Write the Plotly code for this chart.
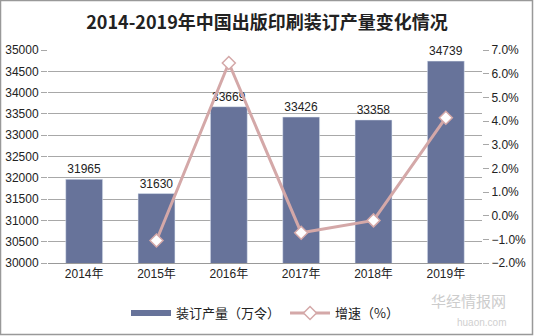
import plotly.graph_objects as go

years = ["2014年", "2015年", "2016年", "2017年", "2018年", "2019年"]
output = [31965, 31630, 33669, 33426, 33358, 34739]
growth = [None, -1.05, 6.45, -0.72, -0.20, 4.14]

W, H = 534, 336
L, R, T, B = 48, 52, 50, 73
BAR_C = "#67739A"
LINE_C = "#D4A8A8"

fig = go.Figure()
fig.add_trace(go.Bar(
    x=years, y=output, name="装订产量（万令）", showlegend=False,
    marker_color=BAR_C,
    text=[str(v) for v in output], textposition="outside",
    textfont=dict(size=12, color="#222"), cliponaxis=False,
))
# legend proxy for bar series (wide swatch)
fig.add_trace(go.Scatter(
    x=[years[0]], y=[None], name="装订产量（万令）", mode="lines",
    line=dict(color=BAR_C, width=6),
))
fig.add_trace(go.Scatter(
    x=years, y=growth, name="增速（%）", yaxis="y2", mode="lines+markers",
    line=dict(color=LINE_C, width=3),
    marker=dict(symbol="diamond", size=10, color="white", line=dict(color=LINE_C, width=1.5)),
    connectgaps=False,
))

pw = (W - L - R)
ph = (H - T - B)
fig.add_shape(type="rect", xref="paper", yref="paper",
              x0=-(L - 0.5) / pw, x1=1 + (R - 1.5) / pw,
              y0=-(B - 1.5) / ph, y1=1 + (T - 0.5) / ph,
              line=dict(color="#999", width=1.5), layer="below")

def py(pix):
    return 1 - (pix - T) / ph

fig.update_layout(
    width=W, height=H, margin=dict(l=L, r=R, t=T, b=B, autoexpand=False),
    paper_bgcolor="white", plot_bgcolor="white",
    font=dict(family="Liberation Sans, Noto Sans CJK SC", size=12, color="#222"),
    title=dict(text="<b>2014-2019年中国出版印刷装订产量变化情况</b>", x=0.5, xanchor="center",
               y=1 - 23 / H, yanchor="middle",
               font=dict(family="Noto Sans CJK SC", size=18, color="#222")),
    bargap=0.49,
    showlegend=True,
    legend=dict(orientation="h", x=0.5, xanchor="center", yref="container",
                y=1 - 313 / H, yanchor="middle",
                font=dict(family="Noto Sans CJK SC", size=13, color="#222"),
                itemwidth=40),
    xaxis=dict(showgrid=False, showline=True, linecolor="#999", ticks="",
               tickfont=dict(size=12)),
    yaxis=dict(range=[30000, 35000], dtick=500, tickformat="d", showgrid=True,
               gridcolor="#A8A8A8", gridwidth=1, ticks="outside", ticklen=6,
               tickcolor="#A8A8A8", showline=False, zeroline=False,
               tickfont=dict(size=12)),
    yaxis2=dict(range=[-2, 7], dtick=1, overlaying="y", side="right", showgrid=False,
                ticks="outside", ticklen=6, tickcolor="#A8A8A8", tickformat=".1f",
                ticksuffix="%", zeroline=False, tickfont=dict(size=12)),
)

fig.add_annotation(text="华经情报网", xref="paper", yref="paper", x=1.06, y=py(300),
                   showarrow=False, font=dict(family="Noto Sans CJK SC", size=15, color="#CCCCCC"),
                   xanchor="right", yanchor="middle")
fig.add_annotation(text="huaon.com", xref="paper", yref="paper", x=1.06, y=py(322),
                   showarrow=False, font=dict(size=10, color="#D0D0D0"),
                   xanchor="right", yanchor="middle")

fig.write_html("out.html")
